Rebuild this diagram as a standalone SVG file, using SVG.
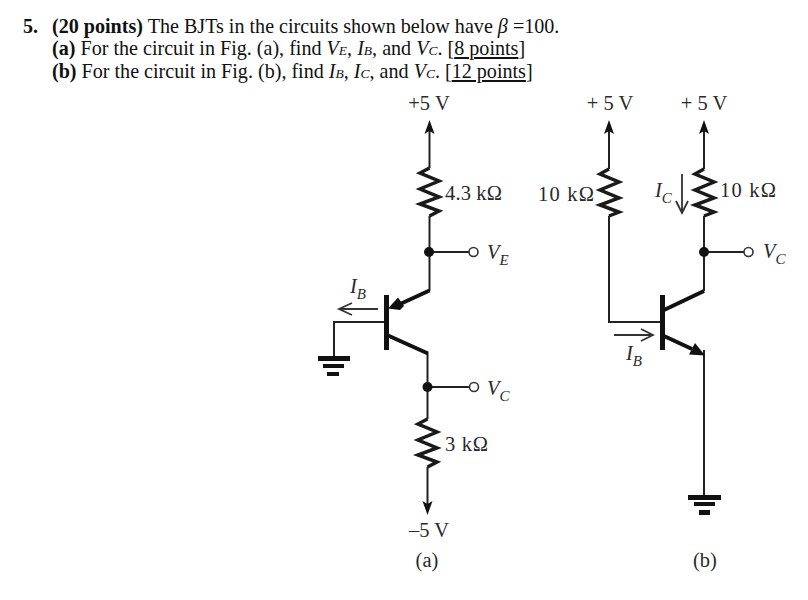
<svg xmlns="http://www.w3.org/2000/svg" width="808" height="600" viewBox="0 0 808 600">
<style>
text{font-family:"Liberation Serif","Times New Roman",serif;fill:#1a1a1a}
.h{font-size:20.1px;fill:#111}
.b{font-weight:bold}
.i{font-style:italic}
.s{font-size:13.5px}
.l{font-size:20.5px;fill:#2a2a2a}
.sub{font-size:15px;font-style:italic}
.w{fill:none;stroke:#222;stroke-width:2}
.th{fill:none;stroke:#111;stroke-width:4}
.r{fill:none;stroke:#1a1a1a;stroke-width:3.5;stroke-linejoin:miter}
.o{fill:#fff;stroke:#333;stroke-width:1.6}
.a{fill:none;stroke:#333;stroke-width:1.8}
.f{fill:#111}
</style>
<rect width="808" height="600" fill="#fff"/>
<g id="question">
<text class="h b" x="23" y="33">5.</text>
<text class="h" x="52" y="33"><tspan class="b">(20 points)</tspan> The BJTs in the circuits shown below have <tspan class="i">β</tspan> =100.</text>
<text class="h" x="52" y="55"><tspan class="b">(a)</tspan> For the circuit in Fig. (a), find <tspan class="i">V</tspan><tspan class="i s">E</tspan>, <tspan class="i">I</tspan><tspan class="i s">B</tspan>, and <tspan class="i">V</tspan><tspan class="i s">C</tspan>. [<tspan text-decoration="underline">8 points</tspan>]</text>
<text class="h" x="52" y="78"><tspan class="b">(b)</tspan> For the circuit in Fig. (b), find <tspan class="i">I</tspan><tspan class="i s">B</tspan>, <tspan class="i">I</tspan><tspan class="i s">C</tspan>, and <tspan class="i">V</tspan><tspan class="i s">C</tspan>. [<tspan text-decoration="underline">12 points</tspan>]</text>
</g>
<g id="connectors">
<path class="w" d="M429.500 128V168M429.500 216V291M429.500 252H469"/>
<path class="w" d="M385 322H334V358"/>
<path class="w" d="M427.500 353V419M427.500 387H470M427.500 467V505"/>
<path class="w" d="M609 128V169M609 216V322H661"/>
<path class="w" d="M704 128V169M704 216V291M704 252H744"/>
<path class="w" d="M704 350V497"/>
<path class="th" d="M429.500 290.500L398 305"/>
<path class="th" d="M388 335.500L428 353.500"/>
<path class="th" d="M664 310L704 291"/>
<path class="th" d="M664 336L692 349"/>
</g>
<g id="arrowheads">
<path class="f" d="M429.500 120L434.500 134L429.500 131L424.500 134Z"/>
<path class="f" d="M609 120L614 134L609 131L604 134Z"/>
<path class="f" d="M704 120L709 134L704 131L699 134Z"/>
<path class="f" d="M427.500 515L422.500 501L427.500 504L432.500 501Z"/>
<path class="f" d="M388 308.500L398 297.500L404 306L400 310Z"/>
<path class="f" d="M705 355.500L689 354.500L695 343Z"/>
</g>
<g id="R1"><path class="r" d="M429.500 168L420 173L439 181L420 189L439 197L420 204L439 211L429.500 216"/></g>
<g id="R2"><path class="r" d="M427.500 419L418 424L437 432L418 440L437 448L418 455L437 462L427.500 467"/></g>
<g id="R3"><path class="r" d="M609 169L600 174L619 182L600 190L619 198L600 205L619 212L609 216"/></g>
<g id="R4"><path class="r" d="M704 169L695 174L714 182L695 190L714 198L695 205L714 212L704 216"/></g>
<g id="Q1"><rect class="f" x="384" y="295" width="5" height="55"/></g>
<g id="Q2"><rect class="f" x="660" y="295" width="5" height="55"/></g>
<g id="nodeA1"><circle class="f" cx="429" cy="252" r="5"/><circle class="o" cx="473.500" cy="252" r="4.500"/></g>
<g id="nodeA2"><circle class="f" cx="427.500" cy="387" r="5"/><circle class="o" cx="474" cy="387" r="4.500"/></g>
<g id="nodeB"><circle class="f" cx="704" cy="252" r="5"/><circle class="o" cx="748.500" cy="252" r="4.500"/></g>
<g id="gndA"><rect class="f" x="318" y="356" width="32" height="5"/><rect class="f" x="323" y="364" width="21" height="4"/><rect class="f" x="327" y="372" width="12" height="4"/></g>
<g id="gndB"><rect class="f" x="688" y="495" width="33" height="5"/><rect class="f" x="694" y="502" width="21" height="4"/><rect class="f" x="699" y="510" width="11" height="5"/></g>
<g id="currents">
<path class="a" d="M378 309H339M352 303L339 309L352 315"/>
<path class="a" d="M614 335H653M641 329L653 335L641 341"/>
<path class="a" d="M682 174V213M676 201L682 213L688 201"/>
</g>
<g id="labels">
<text class="l" x="429" y="110" text-anchor="middle">+5 V</text>
<text class="l" x="610" y="110" text-anchor="middle">+ 5 V</text>
<text class="l" x="704" y="110" text-anchor="middle">+ 5 V</text>
<text class="l" x="445" y="200" textLength="57">4.3 kΩ</text>
<text class="l" x="538" y="201" textLength="56">10 kΩ</text>
<text class="l" x="720" y="197" textLength="56">10 kΩ</text>
<text class="l" x="445" y="451" textLength="43">3 kΩ</text>
<text class="l" x="429" y="537" text-anchor="middle">–5 V</text>
<text class="l" x="427" y="567" text-anchor="middle">(a)</text>
<text class="l" x="705" y="567" text-anchor="middle">(b)</text>
<text class="l i" x="487" y="259">V<tspan class="sub" dy="6">E</tspan></text>
<text class="l i" x="487" y="395">V<tspan class="sub" dy="6">C</tspan></text>
<text class="l i" x="763" y="258">V<tspan class="sub" dy="6">C</tspan></text>
<text class="l i" x="350" y="293">I<tspan class="sub" dy="6">B</tspan></text>
<text class="l i" x="626" y="360">I<tspan class="sub" dy="6">B</tspan></text>
<text class="l i" x="655" y="197">I<tspan class="sub" dy="6">C</tspan></text>
</g>
</svg>
